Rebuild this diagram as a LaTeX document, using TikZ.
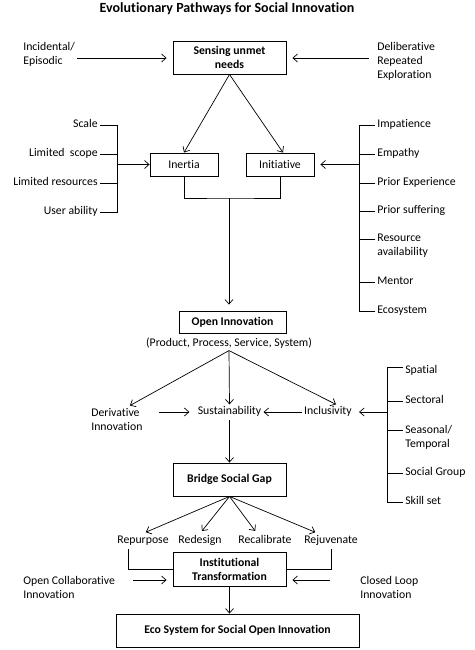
\documentclass[tikz,border=0pt]{standalone}
\usepackage{fontspec}
\setmainfont[Ligatures=CommonOff]{Carlito}
\usetikzlibrary{arrows.meta}
\newcommand{\diagfont}{\fontsize{11.75}{14}\selectfont}
\tikzset{
  box/.style={draw, line width=0.9pt, font=\diagfont\bfseries, align=center, inner sep=1pt},
  plainbox/.style={box, font=\diagfont},
  txt/.style={inner sep=2pt, align=left},
  lbl/.style={txt, text height=8pt, text depth=2.5pt},
  arr/.style={-{Straight Barb[length=4.5pt,width=8pt]}},
}
\begin{document}
\begin{tikzpicture}[x=1pt, y=-1pt, line width=0.7pt, font=\diagfont]
      \useasboundingbox (0,0) rectangle (474,650);
      \node[font=\fontsize{14}{16}\selectfont\bfseries] (title) at (227,9) {Evolutionary Pathways for Social Innovation};
      \node[box, minimum width=113, minimum height=33] (sense) at (229.5,57.5) {Sensing unmet\\needs};
      \node[plainbox, minimum width=68, minimum height=23] (inertia) at (184,164.5) {Inertia};
      \node[plainbox, minimum width=68, minimum height=23] (initiative) at (280,164.5) {Initiative};
      \node[box, minimum width=107, minimum height=22] (open) at (232.5,322) {Open Innovation};
      \node[txt] (pps) at (229,343) {(Product, Process, Service, System)};
      \node[box, minimum width=113, minimum height=33] (bridge) at (229.5,479.5) {Bridge Social Gap};
      \node[box, minimum width=113, minimum height=34] (inst) at (229.5,569) {Institutional\\Transformation};
      \node[box, minimum width=243, minimum height=33] (eco) at (237.5,630.5) {Eco System for Social Open Innovation};
      % side texts
      \node[txt, anchor=west] (incid) at (21,54) {Incidental/\\Episodic};
      \node[txt, anchor=west] (delib) at (375,61) {Deliberative\\Repeated\\Exploration};
      \node[lbl, anchor=east] (scale) at (100,125) {Scale};
      \node[lbl, anchor=east] (scope) at (100,154) {Limited~~scope};
      \node[lbl, anchor=east] (limres) at (100,183) {Limited resources};
      \node[lbl, anchor=east] (user) at (100,212) {User ability};
      \node[lbl, anchor=west] (impat) at (375,125) {Impatience};
      \node[lbl, anchor=west] (empathy) at (375,154) {Empathy};
      \node[lbl, anchor=west] (priorexp) at (375,183) {Prior Experience};
      \node[lbl, anchor=west] (priorsuf) at (375,211) {Prior suffering};
      \node[txt, anchor=west] (resav) at (375,246) {Resource\\availability};
      \node[lbl, anchor=west] (mentor) at (375,282) {Mentor};
      \node[lbl, anchor=west] (ecosys) at (375,311) {Ecosystem};
      \node[txt, anchor=west] (deriv) at (89,419) {Derivative\\Innovation};
      \node[lbl] (sust) at (229.5,412) {Sustainability};
      \node[lbl] (incl) at (328,412) {Inclusivity};
      \node[lbl, anchor=west] (spatial) at (403,371) {Spatial};
      \node[lbl, anchor=west] (sectoral) at (403,401) {Sectoral};
      \node[txt, anchor=west] (seasonal) at (403,437) {Seasonal/\\Temporal};
      \node[lbl, anchor=west] (socgroup) at (403,473) {Social Group};
      \node[lbl, anchor=west] (skill) at (403,502) {Skill set};
      \node[lbl] (repurp) at (143,541) {Repurpose};
      \node[lbl] (redes) at (200,541) {Redesign};
      \node[lbl] (recal) at (265,541) {Recalibrate};
      \node[lbl] (rejuv) at (331,541) {Rejuvenate};
      \node[txt, anchor=west] (ocoll) at (21,587) {Open Collaborative\\Innovation};
      \node[txt, anchor=west] (cloop) at (358,587) {Closed Loop\\Innovation};
      \coordinate (incin) at (77,58);
      \coordinate (delin) at (369,58);
      \coordinate (lbar) at (117,164.5);
      \coordinate (rbar) at (359,164.5);
      \coordinate (merge) at (229,198);
      \coordinate (rbarb) at (387,412);
      \coordinate (ocin) at (133,580);
      \coordinate (clin) at (330,580);
      \begin{scope}[-]
        \draw (scale.east) -- (scale.east -| lbar) |- (user.east);
        \draw (scope.east) -- (scope.east -| lbar);
        \draw (limres.east) -- (limres.east -| lbar);
        \draw (impat.west) -- (impat.west -| rbar) |- (ecosys.west);
        \draw (empathy.west) -- (empathy.west -| rbar);
        \draw (priorexp.west) -- (priorexp.west -| rbar);
        \draw (priorsuf.west) -- (priorsuf.west -| rbar);
        \draw ([yshift=7pt]resav.west) -- ([yshift=7pt]resav.west -| rbar);
        \draw (mentor.west) -- (mentor.west -| rbar);
        \draw ([yshift=4pt]spatial.west) -- ([yshift=4pt]spatial.west -| rbarb) |- (skill.west);
        \draw (sectoral.west) -- (sectoral.west -| rbarb);
        \draw ([yshift=7pt]seasonal.west) -- ([yshift=7pt]seasonal.west -| rbarb);
        \draw (socgroup.west) -- (socgroup.west -| rbarb);
        \draw (inertia.south) |- (merge) -| (initiative.south);
        \draw ([xshift=-15pt]repurp.south) |- (inst.west);
        \draw (rejuv.south) |- (inst.east);
      \end{scope}
      \begin{scope}[arr]
        \draw[shorten >=6pt] (incin) -- (incin -| sense.west);
        \draw[shorten >=6pt] (delin) -- (delin -| sense.east);
        \draw (sense.south) -- (inertia.north);
        \draw (sense.south) -- ([xshift=3pt]initiative.north);
        \draw (lbar) -- (inertia.west);
        \draw[shorten >=6pt] (rbar) -- (initiative.east);
        \draw[shorten >=6pt] (merge) -- (open.north -| merge);
        \draw (pps.south) -- ([xshift=13pt]deriv.north);
        \draw (pps.south) -- (sust.north);
        \draw (pps.south) -- ([xshift=8pt]incl.north);
        \draw[shorten <=14pt, shorten >=6pt] (deriv.east |- sust.west) -- (sust.west);
        \draw (incl.west) -- (sust.east);
        \draw[shorten >=5pt] (rbarb) -- (incl.east);
        \draw (sust.south) -- (bridge.north -| sust.south);
        \draw[shorten >=3pt] (bridge.south) -- (repurp.north);
        \draw[shorten >=3pt] (bridge.south) -- (redes.north);
        \draw[shorten >=3pt] (bridge.south) -- ([xshift=-8pt]recal.north);
        \draw[shorten >=3pt] (bridge.south) -- ([xshift=-13pt]rejuv.north);
        \draw[shorten >=6pt] (ocin) -- (ocin -| inst.west);
        \draw[shorten >=6pt] (clin) -- (clin -| inst.east);
        \draw (inst.south) -- (eco.north -| inst.south);
      \end{scope}
    \end{tikzpicture}
\end{document}
